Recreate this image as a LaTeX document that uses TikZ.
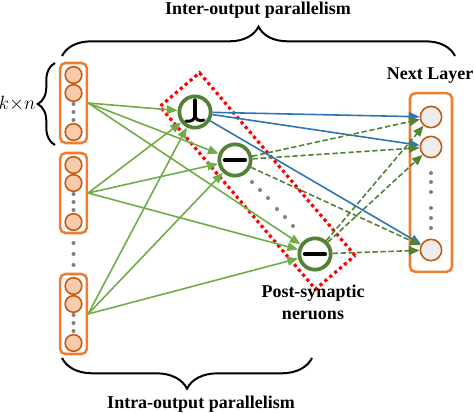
\documentclass[tikz,border=0pt]{standalone}
\usepackage{fontspec}
\setmainfont{Liberation Serif}
\usetikzlibrary{arrows.meta}
\usetikzlibrary{decorations.pathreplacing}

\definecolor{boxorange}{RGB}{237,125,49}
\definecolor{cellfill}{RGB}{248,203,173}
\definecolor{cellline}{RGB}{197,90,17}
\definecolor{neurongreen}{RGB}{84,130,53}
\definecolor{synapsegreen}{RGB}{112,173,71}
\definecolor{outblue}{RGB}{46,117,182}
\definecolor{dotgray}{RGB}{127,127,127}
\definecolor{nextfill}{RGB}{237,237,237}

\tikzset{
  inbox/.style={draw=boxorange, line width=1.9pt, rounded corners=4pt, minimum width=20pt, minimum height=60pt, inner sep=0pt},
  cell/.style={circle, draw=cellline, fill=cellfill, line width=1.2pt, minimum size=12.5pt, inner sep=0pt},
  nextcell/.style={circle, draw=cellline, fill=nextfill, line width=1.2pt, minimum size=16pt, inner sep=0pt},
  neuron/.style={circle, draw=neurongreen, fill=white, line width=2.8pt, minimum size=23.5pt, inner sep=0pt},
  synapse/.style={draw=synapsegreen, line width=1.2pt, -{Triangle[length=8pt,width=6.5pt]}},
  outlink/.style={draw=outblue, line width=1.2pt, -{Triangle[length=8pt,width=6.5pt]}},
  dashlink/.style={draw=neurongreen, line width=1.2pt, dash pattern=on 4pt off 2pt, -{Triangle[length=8pt,width=6.5pt]}},
  glyph/.style={line width=2.4pt, line cap=round},
  bracket/.style={line width=1.5pt, decorate, decoration={brace, amplitude=#1}},
  headtext/.style={font=\fontsize{13.5}{16}\selectfont\bfseries, inner sep=0pt},
}

\begin{document}
\begin{tikzpicture}[x=0.75pt,y=0.75pt,yscale=-1,xscale=1]
\useasboundingbox (0,0) rectangle (474,413);

%Shape: Rotated Rectangle (post-synaptic group)
\node[draw=red, line width=2.4pt, dash pattern=on 2.4pt off 2.4pt, rotate=-49.6, minimum width=180pt, minimum height=39pt] (post) at (257.5,181) {};

%Shape: Input groups
\foreach \t [count=\i] in {62,152,273} {
  \node[inbox] (in\i) at (73.5,\t+41) {};
  \node[cell] (c\i a) at (73.5,\t+13) {};
  \node[cell] (c\i b) at (73.5,\t+31) {};
  \node[cell] (c\i c) at (73.5,\t+70) {};
  \foreach \d in {42,50,58}
    \fill[dotgray] (73.5,\t+\d) circle (2);
}
\foreach \y in {243,254,265}
  \fill[dotgray] (73.5,\y) circle (2);

%Shape: Post-synaptic neurons
\node[neuron] (n1) at (195,112) {};
\node[neuron] (n2) at (235,160) {};
\node[neuron] (n3) at (315,254) {};
\foreach \x/\y in {252/182,260/190,268/198,277/209,285/217,293/226}
  \fill[dotgray] (\x,\y) circle (2);
\draw[glyph] ([shift={(0,-12)}]n1.center) -- ([shift={(0,5)}]n1.center);
\draw[glyph, line width=2.2pt] ([shift={(-9,9)}]n1.center) .. controls ([shift={(-2,10)}]n1.center) and ([shift={(0,7)}]n1.center) .. ([shift={(0,2)}]n1.center) .. controls ([shift={(0,7)}]n1.center) and ([shift={(3,10)}]n1.center) .. ([shift={(9,8)}]n1.center);
\draw[glyph, line width=3.2pt] ([shift={(-10,0)}]n2.center) -- ([shift={(10,0)}]n2.center);
\draw[glyph, line width=3.2pt] ([shift={(-10,0)}]n3.center) -- ([shift={(10,0)}]n3.center);

%Shape: Next layer
\node[inbox, minimum width=31.5pt, minimum height=134pt] (next) at (431,182.5) {};
\node[nextcell] (o1) at (431,117) {};
\node[nextcell] (o2) at (431,147) {};
\node[nextcell] (o3) at (431,250) {};
\foreach \y in {173,182,192,208,218,228}
  \fill[dotgray] (431,\y) circle (2);

%Straight Lines
\foreach \b in {in1,in2,in3}
  \foreach \n in {n1,n2,n3}
    \draw[synapse] (\b.east) -- (\n);
\foreach \o in {o1,o2,o3}
  \draw[outlink] (n1) -- (\o);
\foreach \n in {n2,n3}
  \foreach \o in {o1,o2,o3}
    \draw[dashlink] (\n) -- (\o);

%Braces
\draw[bracket=22pt] (62,56) -- (455,56);
\draw[bracket=23pt] (312,358) -- (62,358);
\draw[bracket=13pt] (55,145) -- (55,63);

% Text Node
\node[headtext, anchor=base] (inter) at (258,15) {Inter-output parallelism};
% Text Node
\node[headtext, anchor=base] (intra) at (201,408) {Intra-output parallelism};
% Text Node
\node[headtext, anchor=base] (nexttext) at (430,80) {Next Layer};
% Text Node
\node[headtext, align=center, anchor=base] (posttext) at (313,319) {Post-synaptic\\[0.5pt]neruons};
% Text Node
\node[font=\fontsize{15}{17}\selectfont, inner sep=0pt] (kn) at (17,104) {$k{\times}n$};

\end{tikzpicture}
\end{document}
